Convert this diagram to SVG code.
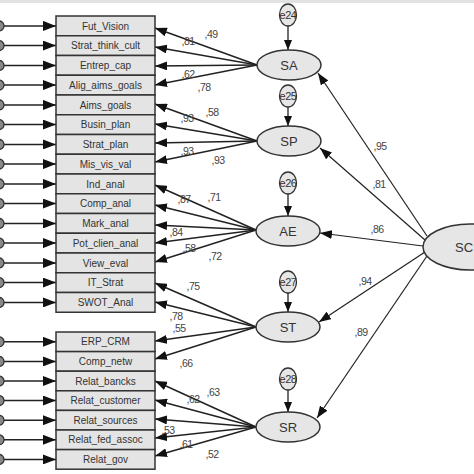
<svg xmlns="http://www.w3.org/2000/svg" width="474" height="474" viewBox="0 0 474 474">
<defs>
<marker id="ah" markerUnits="userSpaceOnUse" markerWidth="12" markerHeight="9" refX="12" refY="4.5" orient="auto"><path d="M0,0 L12,4.5 L0,9 Z" fill="#111"/></marker>
<marker id="ahL" markerUnits="userSpaceOnUse" markerWidth="13" markerHeight="10" refX="13" refY="5" orient="auto"><path d="M0,0 L13,5 L0,10 Z" fill="#111"/></marker>
<marker id="ahS" markerUnits="userSpaceOnUse" markerWidth="10" markerHeight="8" refX="10" refY="4" orient="auto"><path d="M0,0 L10,4 L0,8 Z" fill="#111"/></marker>
</defs>
<style>
.box{fill:#e4e4e4;stroke:#333;stroke-width:1.5}
.bt{font-family:"Liberation Sans",Arial,sans-serif;font-size:10px;fill:#333;text-anchor:middle}
.lat{fill:#e6e6e6;stroke:#333;stroke-width:1.5}
.lt{font-family:"Liberation Sans",Arial,sans-serif;font-size:13px;fill:#333;text-anchor:middle}
.er{fill:#e6e6e6;stroke:#333;stroke-width:1.3}
.et{font-family:"Liberation Sans",Arial,sans-serif;font-size:11px;fill:#333;text-anchor:middle;letter-spacing:-0.5px}
.ec{fill:#888;stroke:#333;stroke-width:1.3}
.ld{stroke:#222;stroke-width:1.5;fill:none;marker-end:url(#ah)}
.le{stroke:#222;stroke-width:1.5;fill:none;marker-end:url(#ahL)}
.lv{stroke:#222;stroke-width:1.3;fill:none;marker-end:url(#ahS)}
.ls{stroke:#222;stroke-width:1.2;fill:none;marker-end:url(#ah)}
.n{font-family:"Liberation Sans",Arial,sans-serif;font-size:10.5px;fill:#444;letter-spacing:-0.6px;text-anchor:middle}
</style>
<rect x="0" y="0" width="474" height="474" fill="#fff"/>
<rect x="0" y="0" width="474" height="3" fill="#e2e2e2"/>

<g id="connectors">
<line class="le" x1="4" y1="25.9" x2="56" y2="25.9"/>
<line class="le" x1="4" y1="45.6" x2="56" y2="45.6"/>
<line class="le" x1="4" y1="65.4" x2="56" y2="65.4"/>
<line class="le" x1="4" y1="85.1" x2="56" y2="85.1"/>
<line class="le" x1="4" y1="104.9" x2="56" y2="104.9"/>
<line class="le" x1="4" y1="124.6" x2="56" y2="124.6"/>
<line class="le" x1="4" y1="144.4" x2="56" y2="144.4"/>
<line class="le" x1="4" y1="164.1" x2="56" y2="164.1"/>
<line class="le" x1="4" y1="183.9" x2="56" y2="183.9"/>
<line class="le" x1="4" y1="203.6" x2="56" y2="203.6"/>
<line class="le" x1="4" y1="223.4" x2="56" y2="223.4"/>
<line class="le" x1="4" y1="243.1" x2="56" y2="243.1"/>
<line class="le" x1="4" y1="262.9" x2="56" y2="262.9"/>
<line class="le" x1="4" y1="282.6" x2="56" y2="282.6"/>
<line class="le" x1="4" y1="302.4" x2="56" y2="302.4"/>
<line class="le" x1="4" y1="341.8" x2="56" y2="341.8"/>
<line class="le" x1="4" y1="361.4" x2="56" y2="361.4"/>
<line class="le" x1="4" y1="381" x2="56" y2="381"/>
<line class="le" x1="4" y1="400.6" x2="56" y2="400.6"/>
<line class="le" x1="4" y1="420.2" x2="56" y2="420.2"/>
<line class="le" x1="4" y1="439.8" x2="56" y2="439.8"/>
<line class="le" x1="4" y1="459.4" x2="56" y2="459.4"/>
<line class="ld" x1="257" y1="65" x2="155" y2="28"/>
<line class="ld" x1="257" y1="65" x2="155" y2="47"/>
<line class="ld" x1="257" y1="65" x2="155" y2="66"/>
<line class="ld" x1="257" y1="65" x2="155" y2="85"/>
<line class="ld" x1="257" y1="141" x2="155" y2="104"/>
<line class="ld" x1="257" y1="141" x2="155" y2="124"/>
<line class="ld" x1="257" y1="141" x2="155" y2="143"/>
<line class="ld" x1="257" y1="141" x2="155" y2="162"/>
<line class="ld" x1="256" y1="230" x2="155" y2="185"/>
<line class="ld" x1="256" y1="230" x2="155" y2="205"/>
<line class="ld" x1="256" y1="230" x2="155" y2="225"/>
<line class="ld" x1="256" y1="230" x2="155" y2="243"/>
<line class="ld" x1="256" y1="230" x2="155" y2="262"/>
<line class="ld" x1="256" y1="327" x2="155" y2="283"/>
<line class="ld" x1="256" y1="327" x2="155" y2="302"/>
<line class="ld" x1="256" y1="327" x2="155" y2="341"/>
<line class="ld" x1="256" y1="327" x2="155" y2="359"/>
<line class="ld" x1="256" y1="427" x2="155" y2="381"/>
<line class="ld" x1="256" y1="427" x2="155" y2="400"/>
<line class="ld" x1="256" y1="427" x2="155" y2="419"/>
<line class="ld" x1="256" y1="427" x2="155" y2="438"/>
<line class="ld" x1="256" y1="427" x2="155" y2="456"/>
<line class="lv" x1="288" y1="26" x2="288" y2="50"/>
<line class="lv" x1="288" y1="107" x2="288" y2="126"/>
<line class="lv" x1="288" y1="194" x2="288" y2="216"/>
<line class="lv" x1="288" y1="293" x2="288" y2="312"/>
<line class="lv" x1="288" y1="390" x2="288" y2="412"/>
<line class="ls" x1="427" y1="236" x2="318" y2="73"/>
<line class="ls" x1="425" y1="240" x2="320" y2="148"/>
<line class="ls" x1="423" y1="246" x2="320" y2="233"/>
<line class="ls" x1="425" y1="252" x2="319" y2="322"/>
<line class="ls" x1="427" y1="256" x2="317" y2="418"/>
</g>

<g id="labels">
<text class="n" x="211" y="38">,49</text>
<text class="n" x="188" y="45">,81</text>
<text class="n" x="188" y="78">,62</text>
<text class="n" x="204" y="91">,78</text>
<text class="n" x="212" y="116">,58</text>
<text class="n" x="187" y="122">,93</text>
<text class="n" x="187" y="155">,93</text>
<text class="n" x="218" y="164">,93</text>
<text class="n" x="184" y="203">,87</text>
<text class="n" x="214" y="201">,71</text>
<text class="n" x="176" y="236">,84</text>
<text class="n" x="189" y="252">,58</text>
<text class="n" x="215" y="260">,72</text>
<text class="n" x="193" y="290">,75</text>
<text class="n" x="176" y="320">,78</text>
<text class="n" x="179" y="332">,55</text>
<text class="n" x="186" y="367">,66</text>
<text class="n" x="213" y="396">,63</text>
<text class="n" x="193" y="403">,62</text>
<text class="n" x="168" y="434">,53</text>
<text class="n" x="186" y="448">,61</text>
<text class="n" x="212" y="458">,52</text>
<text class="n" x="380" y="150">,95</text>
<text class="n" x="379" y="188">,81</text>
<text class="n" x="377" y="233">,86</text>
<text class="n" x="365" y="285">,94</text>
<text class="n" x="361" y="336">,89</text>
</g>

<g id="errors-left">
<circle class="ec" cx="-1" cy="25.9" r="5"/>
<circle class="ec" cx="-1" cy="45.6" r="5"/>
<circle class="ec" cx="-1" cy="65.4" r="5"/>
<circle class="ec" cx="-1" cy="85.1" r="5"/>
<circle class="ec" cx="-1" cy="104.9" r="5"/>
<circle class="ec" cx="-1" cy="124.6" r="5"/>
<circle class="ec" cx="-1" cy="144.4" r="5"/>
<circle class="ec" cx="-1" cy="164.1" r="5"/>
<circle class="ec" cx="-1" cy="183.9" r="5"/>
<circle class="ec" cx="-1" cy="203.6" r="5"/>
<circle class="ec" cx="-1" cy="223.4" r="5"/>
<circle class="ec" cx="-1" cy="243.1" r="5"/>
<circle class="ec" cx="-1" cy="262.9" r="5"/>
<circle class="ec" cx="-1" cy="282.6" r="5"/>
<circle class="ec" cx="-1" cy="302.4" r="5"/>
<circle class="ec" cx="-1" cy="341.8" r="5"/>
<circle class="ec" cx="-1" cy="361.4" r="5"/>
<circle class="ec" cx="-1" cy="381" r="5"/>
<circle class="ec" cx="-1" cy="400.6" r="5"/>
<circle class="ec" cx="-1" cy="420.2" r="5"/>
<circle class="ec" cx="-1" cy="439.8" r="5"/>
<circle class="ec" cx="-1" cy="459.4" r="5"/>
</g>

<g id="n-Fut_Vision"><rect class="box" x="56" y="16" width="99" height="19.75"/><text class="bt" x="105.5" y="29.5">Fut_Vision</text></g>
<g id="n-Strat_think_cult"><rect class="box" x="56" y="35.75" width="99" height="19.75"/><text class="bt" x="105.5" y="49.2">Strat_think_cult</text></g>
<g id="n-Entrep_cap"><rect class="box" x="56" y="55.5" width="99" height="19.75"/><text class="bt" x="105.5" y="69">Entrep_cap</text></g>
<g id="n-Alig_aims_goals"><rect class="box" x="56" y="75.25" width="99" height="19.75"/><text class="bt" x="105.5" y="88.7">Alig_aims_goals</text></g>
<g id="n-Aims_goals"><rect class="box" x="56" y="95" width="99" height="19.75"/><text class="bt" x="105.5" y="108.5">Aims_goals</text></g>
<g id="n-Busin_plan"><rect class="box" x="56" y="114.75" width="99" height="19.75"/><text class="bt" x="105.5" y="128.2">Busin_plan</text></g>
<g id="n-Strat_plan"><rect class="box" x="56" y="134.5" width="99" height="19.75"/><text class="bt" x="105.5" y="148">Strat_plan</text></g>
<g id="n-Mis_vis_val"><rect class="box" x="56" y="154.25" width="99" height="19.75"/><text class="bt" x="105.5" y="167.7">Mis_vis_val</text></g>
<g id="n-Ind_anal"><rect class="box" x="56" y="174" width="99" height="19.75"/><text class="bt" x="105.5" y="187.5">Ind_anal</text></g>
<g id="n-Comp_anal"><rect class="box" x="56" y="193.75" width="99" height="19.75"/><text class="bt" x="105.5" y="207.2">Comp_anal</text></g>
<g id="n-Mark_anal"><rect class="box" x="56" y="213.5" width="99" height="19.75"/><text class="bt" x="105.5" y="227">Mark_anal</text></g>
<g id="n-Pot_clien_anal"><rect class="box" x="56" y="233.25" width="99" height="19.75"/><text class="bt" x="105.5" y="246.7">Pot_clien_anal</text></g>
<g id="n-View_eval"><rect class="box" x="56" y="253" width="99" height="19.75"/><text class="bt" x="105.5" y="266.5">View_eval</text></g>
<g id="n-IT_Strat"><rect class="box" x="56" y="272.75" width="99" height="19.75"/><text class="bt" x="105.5" y="286.2">IT_Strat</text></g>
<g id="n-SWOT_Anal"><rect class="box" x="56" y="292.5" width="99" height="19.75"/><text class="bt" x="105.5" y="306">SWOT_Anal</text></g>
<g id="n-ERP_CRM"><rect class="box" x="56" y="332" width="99" height="19.6"/><text class="bt" x="105.5" y="345.4">ERP_CRM</text></g>
<g id="n-Comp_netw"><rect class="box" x="56" y="351.6" width="99" height="19.6"/><text class="bt" x="105.5" y="365">Comp_netw</text></g>
<g id="n-Relat_bancks"><rect class="box" x="56" y="371.2" width="99" height="19.6"/><text class="bt" x="105.5" y="384.6">Relat_bancks</text></g>
<g id="n-Relat_customer"><rect class="box" x="56" y="390.8" width="99" height="19.6"/><text class="bt" x="105.5" y="404.2">Relat_customer</text></g>
<g id="n-Relat_sources"><rect class="box" x="56" y="410.4" width="99" height="19.6"/><text class="bt" x="105.5" y="423.8">Relat_sources</text></g>
<g id="n-Relat_fed_assoc"><rect class="box" x="56" y="430" width="99" height="19.6"/><text class="bt" x="105.5" y="443.4">Relat_fed_assoc</text></g>
<g id="n-Relat_gov"><rect class="box" x="56" y="449.6" width="99" height="19.6"/><text class="bt" x="105.5" y="463">Relat_gov</text></g>

<g id="n-SA"><ellipse class="lat" cx="289" cy="65" rx="32" ry="15"/><text class="lt" x="289" y="69.5">SA</text></g>
<g id="n-SP"><ellipse class="lat" cx="289" cy="141" rx="32" ry="15"/><text class="lt" x="289" y="145.5">SP</text></g>
<g id="n-AE"><ellipse class="lat" cx="288" cy="231" rx="32" ry="15"/><text class="lt" x="288" y="235.5">AE</text></g>
<g id="n-ST"><ellipse class="lat" cx="288" cy="327" rx="32" ry="15"/><text class="lt" x="288" y="331.5">ST</text></g>
<g id="n-SR"><ellipse class="lat" cx="288" cy="427" rx="32" ry="15"/><text class="lt" x="288" y="431.5">SR</text></g>
<g id="n-SC"><ellipse class="lat" cx="470" cy="247" rx="47" ry="23"/><text class="lt" x="464" y="252">SC</text></g>

<g id="n-e24"><ellipse class="er" cx="288" cy="15" rx="8.5" ry="11"/><text class="et" x="288" y="19">e24</text></g>
<g id="n-e25"><ellipse class="er" cx="288" cy="96" rx="8.5" ry="11"/><text class="et" x="288" y="100">e25</text></g>
<g id="n-e26"><ellipse class="er" cx="288" cy="183" rx="8.5" ry="11"/><text class="et" x="288" y="187">e26</text></g>
<g id="n-e27"><ellipse class="er" cx="288" cy="282" rx="8.5" ry="11"/><text class="et" x="288" y="286">e27</text></g>
<g id="n-e28"><ellipse class="er" cx="288" cy="379" rx="8.5" ry="11"/><text class="et" x="288" y="383">e28</text></g>
</svg>
